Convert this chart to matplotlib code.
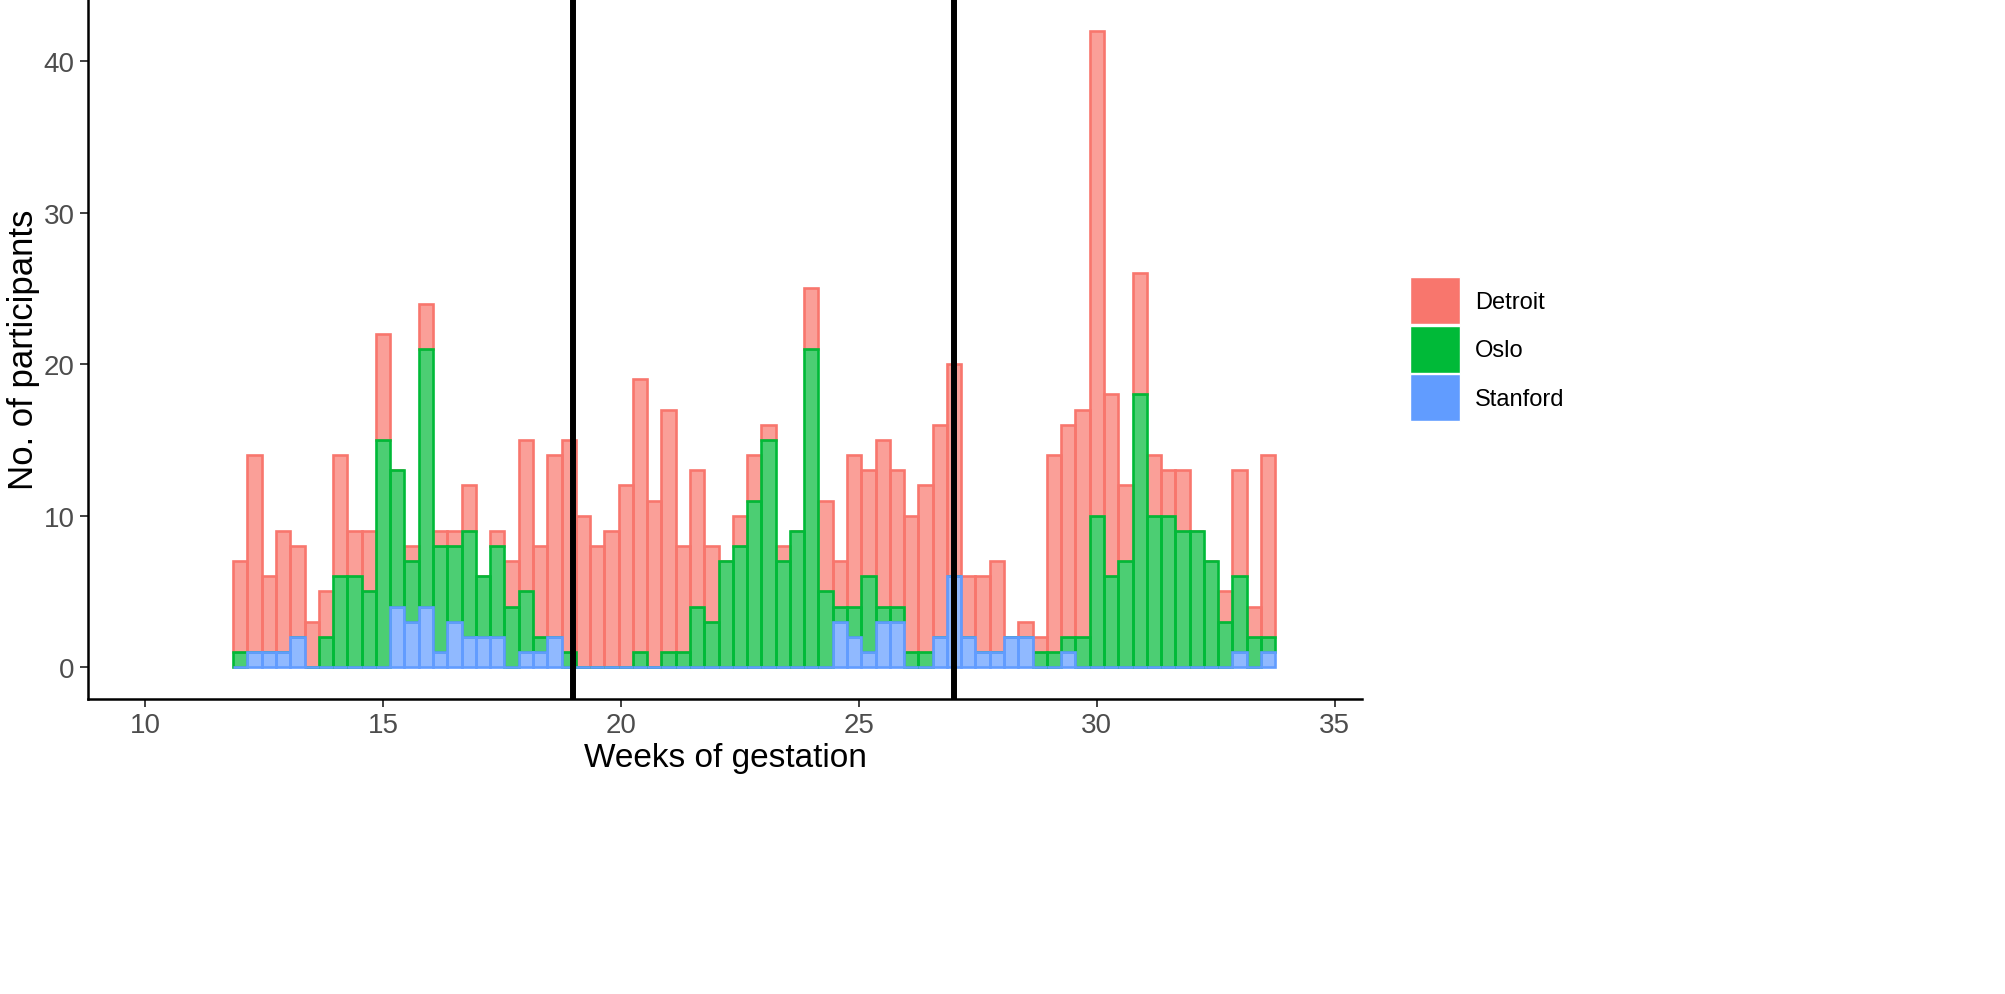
import numpy as np
import matplotlib.pyplot as plt
from matplotlib.patches import Patch

plt.rcParams['font.family'] = ['Liberation Sans', 'DejaVu Sans']

# bin centres: 0.3 week bins, 12.0 .. 33.6
bin_width = 0.3
weeks = np.round(np.arange(12.0, 33.61, bin_width), 2)

# counts per site in each bin
stanford = [0, 1, 1, 1, 2, 0, 0, 0, 0, 0, 0, 4, 3, 4, 1, 3, 2, 2, 2, 0,
            1, 1, 2, 0, 0, 0, 0, 0, 0, 0, 0, 0, 0, 0, 0, 0, 0, 0, 0, 0,
            0, 0, 3, 2, 1, 3, 3, 0, 0, 2, 6, 2, 1, 1, 2, 2, 0, 0, 1, 0,
            0, 0, 0, 0, 0, 0, 0, 0, 0, 0, 1, 0, 1]
oslo = [1, 0, 0, 0, 0, 0, 2, 6, 6, 5, 15, 9, 4, 17, 7, 5, 7, 4, 6, 4,
        4, 1, 0, 1, 0, 0, 0, 0, 1, 0, 1, 1, 4, 3, 7, 8, 11, 15, 7, 9,
        21, 5, 1, 2, 5, 1, 1, 1, 1, 0, 0, 0, 0, 0, 0, 0, 1, 1, 1, 2,
        10, 6, 7, 18, 10, 10, 9, 9, 7, 3, 5, 2, 1]
detroit = [6, 13, 5, 8, 6, 3, 3, 8, 3, 4, 7, 0, 1, 3, 1, 1, 3, 0, 1, 3,
           10, 6, 12, 14, 10, 8, 9, 12, 18, 11, 16, 7, 9, 5, 0, 2, 3, 1, 1, 0,
           4, 6, 3, 10, 7, 11, 9, 9, 11, 14, 14, 4, 5, 6, 0, 1, 1, 13, 14, 15,
           32, 12, 5, 8, 4, 3, 4, 0, 0, 2, 7, 2, 12]

sites = ['Detroit', 'Oslo', 'Stanford']
site_colors = {'Detroit': '#F8766D', 'Oslo': '#00BA38', 'Stanford': '#619CFF'}
period_lines = [19, 27]

stanford = np.array(stanford)
oslo = np.array(oslo)
detroit = np.array(detroit)

fig = plt.figure(figsize=(20.06, 9.95), dpi=100)
ax = fig.add_axes([0.0439, 0.2965, 0.6350, 0.7035])

# stacked: Stanford at the bottom, Detroit on top; draw Detroit first
ax.bar(weeks, detroit, width=bin_width, bottom=stanford + oslo,
       color=site_colors['Detroit'], alpha=0.7, linewidth=0)
ax.bar(weeks, detroit, width=bin_width, bottom=stanford + oslo,
       fill=False, edgecolor=site_colors['Detroit'], linewidth=1.9)
ax.bar(weeks, oslo, width=bin_width, bottom=stanford,
       color=site_colors['Oslo'], alpha=0.7, linewidth=0)
ax.bar(weeks, oslo, width=bin_width, bottom=stanford,
       fill=False, edgecolor=site_colors['Oslo'], linewidth=1.9)
ax.bar(weeks, stanford, width=bin_width,
       color=site_colors['Stanford'], alpha=0.7, linewidth=0)
ax.bar(weeks, stanford, width=bin_width,
       fill=False, edgecolor=site_colors['Stanford'], linewidth=1.9)

for x in period_lines:
    ax.axvline(x, color='black', linewidth=4.3)

ax.set_xlim(8.8, 35.57)
ax.set_ylim(-2.1, 44.1)
ax.set_xticks([10, 15, 20, 25, 30, 35])
ax.set_yticks([0, 10, 20, 30, 40])
ax.tick_params(labelsize=20, labelcolor='#4D4D4D', color='#333333',
               length=6, width=1.3)

for side in ['top', 'right']:
    ax.spines[side].set_visible(False)
for side in ['left', 'bottom']:
    ax.spines[side].set_linewidth(1.8)

ax.set_xlabel('Weeks of gestation', fontsize=24, labelpad=3)
ax.set_ylabel('No. of participants', fontsize=25, labelpad=3)

handles = [Patch(facecolor=site_colors[s], edgecolor='white', linewidth=1)
           for s in sites]
fig.legend(handles, sites, loc='center left', bbox_to_anchor=(0.703, 0.648),
           frameon=False, fontsize=17, handlelength=2.1, handleheight=2.7,
           labelspacing=0.05, handletextpad=0.65, borderpad=0,
           borderaxespad=0)

fig.savefig('out.png', dpi=100)
